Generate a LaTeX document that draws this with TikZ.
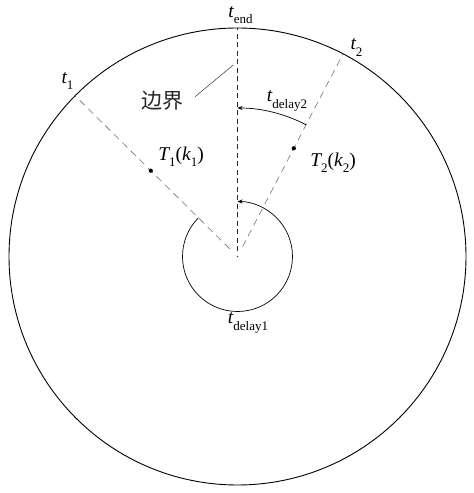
\documentclass[tikz,border=0pt]{standalone}
\usepackage{fontspec}
\setmainfont{Liberation Serif}
\newfontfamily\cjk{Noto Sans CJK SC}
\usetikzlibrary{arrows.meta}
\newcommand\mysub[1]{\raisebox{-0.32em}{\fontsize{13}{13}\selectfont #1}}
\tikzset{
  lbl/.style={inner sep=0pt, font=\fontsize{19.5}{19.5}\selectfont},
  mainline/.style={line width=0.9pt, black},
  vdash/.style={line width=0.8pt, black!85, dash pattern=on 5pt off 3.5pt},
  rdash/.style={line width=0.6pt, black!55, dash pattern=on 7pt off 5pt},
  arc arrow/.style={line width=0.7pt, -{Stealth[length=5pt,width=4pt]}},
  pt/.style={circle, fill=black, inner sep=0pt, minimum size=4.2pt}
}
\begin{document}
\begin{tikzpicture}[x=1pt,y=1pt]
\useasboundingbox (0,0) rectangle (474,493);
\fill[white] (0,0) rectangle (474,493);
\begin{scope}[shift={(237.5,236.5)}]
  \coordinate (O) at (0,0);
  % outer circle
  \draw[mainline] (O) circle (228.5);
  % points
  \coordinate (Tend) at (90:228.5);
  \coordinate (T1) at (135.3:228.5);
  \coordinate (T2) at (62.5:228.5);
  \coordinate (S1) at (135.3:11);
  \coordinate (S2) at (62.5:11);
  \coordinate (S0) at (90:5);
  % dashed radii
  \draw[vdash] (S0) -- (Tend);
  \draw[rdash] (S1) -- (T1);
  \draw[rdash] (S2) -- (T2);
  % center dot
  \fill[black!70] (O) circle (0.9);
  % inner arc (t_delay1)
  \draw[arc arrow] (135.3:55) arc[start angle=135.3, end angle=450, radius=55];
  % outer arc (t_delay2)
  \draw[arc arrow] (62.5:148.5) arc[start angle=62.5, end angle=90, radius=148.5];
  % dots
  \node[pt] (D1) at (135.3:122) {};
  \node[pt] (D2) at (62.5:122) {};
  % labels
  \node[lbl] (Lend) at (3,241.5) {\itshape t\mysub{\upshape end}};
  \node[lbl] (L1) at (-170,175.5) {\itshape t\mysub{\upshape 1}};
  \node[lbl] (L2) at (119,209) {\itshape t\mysub{\upshape 2}};
  \node[lbl, font=\fontsize{21}{21}\selectfont\cjk, text=black!85] (B) at (-75.5,155.5) {边界};
  \coordinate (Bend) at (-4.2,191.5);
  \draw[line width=0.5pt, black!80] (-42.5,159.8) -- (Bend);
  \node[lbl] (Ld2) at (49.5,155.5) {\itshape t\mysub{\upshape delay2}};
  \node[lbl] (K1) at (-56.5,99.5) {\itshape T\mysub{\upshape 1}\upshape(\itshape k\mysub{\upshape 1}\upshape)};
  \node[lbl] (K2) at (95.5,93.5) {\itshape T\mysub{\upshape 2}\upshape(\itshape k\mysub{\upshape 2}\upshape)};
  \node[lbl] (Ld1) at (10.5,-66.5) {\itshape t\mysub{\upshape delay1}};
\end{scope}
\end{tikzpicture}
\end{document}
